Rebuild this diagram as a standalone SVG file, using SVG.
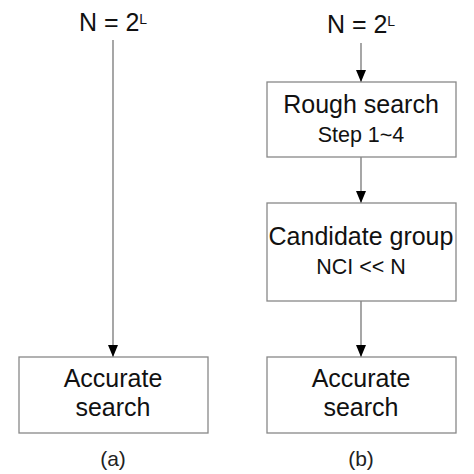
<svg xmlns="http://www.w3.org/2000/svg" width="474" height="474" viewBox="0 0 474 474">
<style>
  text { font-family: "Liberation Sans", Arial, sans-serif; fill: #111; text-anchor: middle; }
  .big { font-size: 25px; }
  .mid { font-size: 21.5px; }
  .sup { font-size: 14px; }
  .cap { font-size: 21px; fill: #222; }
  .box { fill: #fff; stroke: #888; stroke-width: 1.3; }
  .edge { stroke: #777; stroke-width: 1.3; fill: none; marker-end: url(#arr); }
</style>
<defs>
  <marker id="arr" viewBox="0 0 12 10" refX="12" refY="5" markerWidth="12" markerHeight="10" markerUnits="userSpaceOnUse" orient="auto">
    <path d="M0,0 L12,5 L0,10 Z" fill="#000"/>
  </marker>
</defs>
<rect width="474" height="474" fill="#fff"/>
<g id="connectors">
  <line class="edge" x1="113" y1="40" x2="113" y2="357"/>
  <line class="edge" x1="361" y1="43" x2="361" y2="82"/>
  <line class="edge" x1="361" y1="157" x2="361" y2="203"/>
  <line class="edge" x1="361" y1="301" x2="361" y2="357"/>
</g>
<g id="a-input">
  <text class="big" x="113" y="31">N = 2<tspan class="sup" dy="-7">L</tspan></text>
</g>
<g id="a-accurate">
  <rect class="box" x="19" y="357" width="189" height="76"/>
  <text class="big" x="113" y="387">Accurate</text>
  <text class="big" x="113" y="416">search</text>
</g>
<g id="a-label"><text class="cap" x="113" y="466">(a)</text></g>
<g id="b-input">
  <text class="big" x="361" y="33">N = 2<tspan class="sup" dy="-7">L</tspan></text>
</g>
<g id="b-rough">
  <rect class="box" x="267" y="82" width="189" height="75"/>
  <text class="big" x="361" y="113">Rough search</text>
  <text class="mid" x="361" y="142">Step 1~4</text>
</g>
<g id="b-candidate">
  <rect class="box" x="267" y="203" width="189" height="98"/>
  <text class="big" x="361" y="245">Candidate group</text>
  <text class="mid" x="361" y="274">NCI &lt;&lt; N</text>
</g>
<g id="b-accurate">
  <rect class="box" x="267" y="357" width="189" height="76"/>
  <text class="big" x="361" y="387">Accurate</text>
  <text class="big" x="361" y="416">search</text>
</g>
<g id="b-label"><text class="cap" x="361" y="466">(b)</text></g>
</svg>
